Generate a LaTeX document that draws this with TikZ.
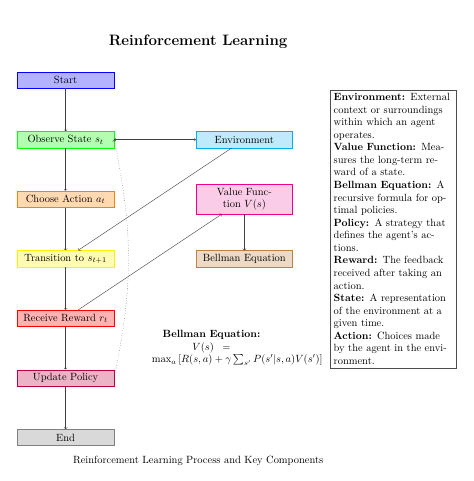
\documentclass[tikz,border=0pt]{standalone}
\usepackage{xcolor}
\usepackage{amsmath,amssymb}
\usepackage{tikz}
\usetikzlibrary{arrows,positioning}

\begin{document}
\begin{tikzpicture}[
    stage/.style={rectangle, draw=#1, fill=#1!30, text width=3cm,
        align=center, minimum height=0.55cm},
    flow/.style={->, black!75}]
    \useasboundingbox (-2.202,2.686) rectangle (13.709,-13.461);
    \begin{scope} % Title and caption
        \node (title) at (4.45,1.28) {\Large\bfseries Reinforcement Learning};
        \node (caption) at (4.45,-12.8) {Reinforcement Learning Process and Key Components};
    \end{scope}
    \begin{scope} % Main loop
        \node[stage=blue] (start) at (0,0) {Start};
        \node[stage=green] (observe) at (0,-2) {Observe State $s_t$};
        \node[stage=orange] (choose) at (0,-4) {Choose Action $a_t$};
        \node[stage=yellow] (trans) at (0,-6) {Transition to $s_{t+1}$};
        \node[stage=red] (reward) at (0,-8) {Receive Reward $r_t$};
        \node[stage=purple] (update) at (0,-10) {Update Policy};
        \node[stage=gray] (end) at (0,-12) {End};
    \end{scope}
    \begin{scope} % Components
        \node[stage=cyan, fill=cyan!25] (env) at (6,-2) {Environment};
        \node[stage=magenta, fill=magenta!20] (value) at (6,-4) {Value Function $V(s)$};
        \node[stage=brown] (bellman) at (6,-6) {Bellman Equation};
    \end{scope}
    \begin{scope}[flow] % Arrows
        \draw (start) -- (observe);
        \draw (observe) -- (choose);
        \draw (choose) -- (trans);
        \draw (trans) -- (reward);
        \draw (reward) -- (update);
        \draw (update) -- (end);
        \draw[<->] (observe) -- (env);
        \draw (env) -- (trans);
        \draw (reward) -- (value);
        \draw (value) -- (bellman);
        \draw[dotted] (update.east) to[bend right=12] (observe.east);
    \end{scope}
    \node[text width=4cm, align=center] (eqn) at (4.9,-9)
        {\mbox{\textbf{Bellman Equation:}} $V(s) = \max_a \left[R(s,a) + \gamma \sum_{s'} P(s'|s,a) V(s')\right]$};
    \node[draw=black!70, semithick, fill=white, text width=4cm, align=left] (legend) at (11,-5) {%
        \textbf{Environment:} External context or surroundings within which an agent operates.\\
        \textbf{Value Function:} Measures the long-term reward of a state.\\
        \textbf{Bellman Equation:} A recursive formula for optimal policies.\\
        \textbf{Policy:} A strategy that defines the agent's actions.\\
        \textbf{Reward:} The feedback received after taking an action.\\
        \textbf{State:} A representation of the environment at a given time.\\
        \textbf{Action:} Choices made by the agent in the environment.};
\end{tikzpicture}
\end{document}
